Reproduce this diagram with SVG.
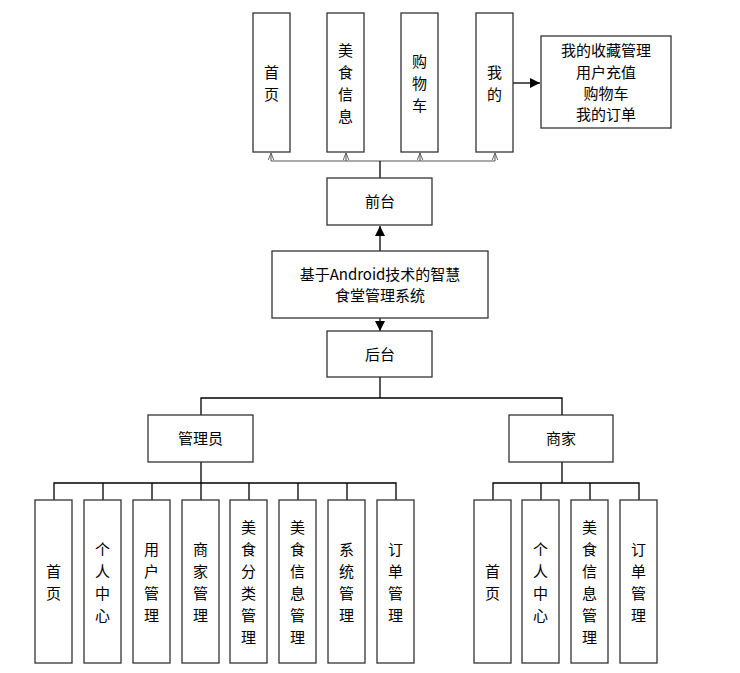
<svg xmlns="http://www.w3.org/2000/svg" width="740" height="673" viewBox="0 0 740 673">
<style>
rect{fill:#fff;stroke:#333;stroke-width:1.3}
text{font-family:"Noto Sans CJK SC","Liberation Sans",sans-serif;font-size:15px;fill:#000;text-anchor:middle}
.c line,.c path{stroke:#000;stroke-width:1.3;fill:none}
.g line{stroke:#555;stroke-width:1}
</style>
<defs>
<marker id="f" viewBox="0 0 10 10" refX="10" refY="5" markerWidth="8" markerHeight="8" orient="auto"><path d="M0,0L10,5L0,10z" fill="#000"/></marker>
<marker id="o" viewBox="0 0 10 10" refX="10" refY="5" markerWidth="7" markerHeight="7" orient="auto"><path d="M0,1L10,5L0,9" fill="none" stroke="#555" stroke-width="1.3"/></marker>
</defs>
<g class="c">
<g class="g">
<line x1="271" y1="161" x2="495" y2="161"/>
<line x1="271" y1="161" x2="271" y2="153" marker-end="url(#o)"/>
<line x1="346" y1="161" x2="346" y2="153" marker-end="url(#o)"/>
<line x1="420" y1="161" x2="420" y2="153" marker-end="url(#o)"/>
<line x1="495" y1="161" x2="495" y2="153" marker-end="url(#o)"/>
</g>
<line x1="380" y1="161" x2="380" y2="178"/>
<line x1="513" y1="83" x2="540" y2="83" marker-end="url(#f)"/>
<line x1="380" y1="251" x2="380" y2="226" marker-end="url(#f)"/>
<line x1="380" y1="318" x2="380" y2="331" marker-end="url(#f)"/>
<path d="M380,377V398M201,415V398H562V415"/>
<path d="M201,462V483M54,500V483H396V500M103,483V500M152,483V500M201,483V500M249,483V500M298,483V500M347,483V500"/>
<path d="M562,462V483M493,500V483H639V500M541,483V500M590,483V500"/>
</g>
<g id="n1"><rect x="253" y="13" width="37" height="139"/><text x="271.5" y="78">首</text><text x="271.5" y="100">页</text></g>
<g id="n2"><rect x="327" y="13" width="37" height="139"/><text x="345.5" y="56">美</text><text x="345.5" y="78">食</text><text x="345.5" y="100">信</text><text x="345.5" y="122">息</text></g>
<g id="n3"><rect x="401" y="13" width="37" height="139"/><text x="419.5" y="67">购</text><text x="419.5" y="89">物</text><text x="419.5" y="111">车</text></g>
<g id="n4"><rect x="476" y="13" width="37" height="139"/><text x="494.5" y="78">我</text><text x="494.5" y="100">的</text></g>
<g id="n5"><rect x="541" y="36" width="130" height="92"/><text x="606" y="56">我的收藏管理</text><text x="606" y="78">用户充值</text><text x="606" y="99">购物车</text><text x="606" y="120">我的订单</text></g>
<g id="qt"><rect x="327" y="178" width="105" height="47"/><text x="380" y="207">前台</text></g>
<g id="main"><rect x="272" y="251" width="216" height="67"/><text x="380" y="280">基于Android技术的智慧</text><text x="380" y="301">食堂管理系统</text></g>
<g id="ht"><rect x="327" y="331" width="105" height="46"/><text x="380" y="360">后台</text></g>
<g id="gly"><rect x="148" y="415" width="105" height="47"/><text x="200.5" y="444">管理员</text></g>
<g id="sj"><rect x="509" y="415" width="104" height="47"/><text x="561" y="444">商家</text></g>
<g id="a1"><rect x="35" y="500" width="37" height="163"/><text x="53.5" y="577">首</text><text x="53.5" y="599">页</text></g>
<g id="a2"><rect x="84" y="500" width="37" height="163"/><text x="102.5" y="555">个</text><text x="102.5" y="577">人</text><text x="102.5" y="599">中</text><text x="102.5" y="621">心</text></g>
<g id="a3"><rect x="133" y="500" width="37" height="163"/><text x="151.5" y="555">用</text><text x="151.5" y="577">户</text><text x="151.5" y="599">管</text><text x="151.5" y="621">理</text></g>
<g id="a4"><rect x="182" y="500" width="37" height="163"/><text x="200.5" y="555">商</text><text x="200.5" y="577">家</text><text x="200.5" y="599">管</text><text x="200.5" y="621">理</text></g>
<g id="a5"><rect x="230" y="500" width="37" height="163"/><text x="248.5" y="533">美</text><text x="248.5" y="555">食</text><text x="248.5" y="577">分</text><text x="248.5" y="599">类</text><text x="248.5" y="621">管</text><text x="248.5" y="643">理</text></g>
<g id="a6"><rect x="279" y="500" width="37" height="163"/><text x="297.5" y="533">美</text><text x="297.5" y="555">食</text><text x="297.5" y="577">信</text><text x="297.5" y="599">息</text><text x="297.5" y="621">管</text><text x="297.5" y="643">理</text></g>
<g id="a7"><rect x="328" y="500" width="37" height="163"/><text x="346.5" y="555">系</text><text x="346.5" y="577">统</text><text x="346.5" y="599">管</text><text x="346.5" y="621">理</text></g>
<g id="a8"><rect x="377" y="500" width="37" height="163"/><text x="395.5" y="555">订</text><text x="395.5" y="577">单</text><text x="395.5" y="599">管</text><text x="395.5" y="621">理</text></g>
<g id="b1"><rect x="474" y="500" width="37" height="163"/><text x="492.5" y="577">首</text><text x="492.5" y="599">页</text></g>
<g id="b2"><rect x="522" y="500" width="37" height="163"/><text x="540.5" y="555">个</text><text x="540.5" y="577">人</text><text x="540.5" y="599">中</text><text x="540.5" y="621">心</text></g>
<g id="b3"><rect x="571" y="500" width="37" height="163"/><text x="589.5" y="533">美</text><text x="589.5" y="555">食</text><text x="589.5" y="577">信</text><text x="589.5" y="599">息</text><text x="589.5" y="621">管</text><text x="589.5" y="643">理</text></g>
<g id="b4"><rect x="620" y="500" width="37" height="163"/><text x="638.5" y="555">订</text><text x="638.5" y="577">单</text><text x="638.5" y="599">管</text><text x="638.5" y="621">理</text></g>
</svg>
